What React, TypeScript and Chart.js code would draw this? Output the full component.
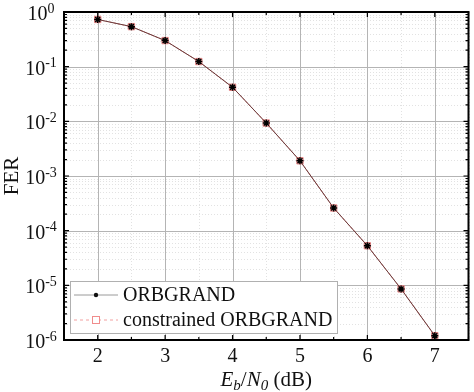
import React, { useEffect, useRef } from "react";
import { Chart, registerables } from "chart.js";

Chart.register(...registerables);

const ebn0 = [2, 2.5, 3, 3.5, 4, 4.5, 5, 5.5, 6, 6.5, 7];
const ferOrbgrand = [0.73, 0.54, 0.30, 0.124, 0.042, 0.0093, 0.0019, 2.6e-4, 5.3e-5, 8.6e-6, 1.2e-6];
const ferConstrained = [0.73, 0.54, 0.30, 0.124, 0.042, 0.0093, 0.0019, 2.6e-4, 5.3e-5, 8.6e-6, 1.2e-6];
const xTicks = [2, 3, 4, 5, 6, 7];
const yExponents = [0, -1, -2, -3, -4, -5, -6];
const seriesNames = ["ORBGRAND", "constrained ORBGRAND"];
const yTitle = "FER";

const SERIF = "'Liberation Serif', 'DejaVu Serif', serif";

const decor = {
  id: "decor",
  beforeDatasetsDraw(chart: any) {
    const ctx = chart.ctx;
    const { left, right, top, bottom } = chart.chartArea;
    const xs = chart.scales.x;
    const ys = chart.scales.y;
    ctx.save();
    // minor grid
    ctx.strokeStyle = "#e2e2e2";
    ctx.lineWidth = 1;
    ctx.setLineDash([1, 2]);
    for (let e = -6; e < 0; e++) {
      for (let m = 2; m <= 9; m++) {
        const y = Math.round(ys.getPixelForValue(m * Math.pow(10, e))) + 0.5;
        ctx.beginPath();
        ctx.moveTo(left, y);
        ctx.lineTo(right, y);
        ctx.stroke();
      }
    }
    for (let v = 1.5; v <= 7.5; v += 1) {
      const x = Math.round(xs.getPixelForValue(v)) + 0.5;
      ctx.beginPath();
      ctx.moveTo(x, top);
      ctx.lineTo(x, bottom);
      ctx.stroke();
    }
    // major grid
    ctx.setLineDash([]);
    ctx.strokeStyle = "#b4b4b4";
    for (const e of yExponents) {
      const y = Math.round(ys.getPixelForValue(Math.pow(10, e))) + 0.5;
      ctx.beginPath();
      ctx.moveTo(left, y);
      ctx.lineTo(right, y);
      ctx.stroke();
    }
    for (const v of xTicks) {
      const x = Math.round(xs.getPixelForValue(v)) + 0.5;
      ctx.beginPath();
      ctx.moveTo(x, top);
      ctx.lineTo(x, bottom);
      ctx.stroke();
    }
    ctx.restore();
  },
  afterDraw(chart: any) {
    const ctx = chart.ctx;
    const { left, right, top, bottom } = chart.chartArea;
    const xs = chart.scales.x;
    const ys = chart.scales.y;
    ctx.save();
    // ticks (inward)
    ctx.strokeStyle = "#000";
    ctx.lineWidth = 1.2;
    for (let e = -6; e <= 0; e++) {
      const y0 = ys.getPixelForValue(Math.pow(10, e));
      ctx.beginPath();
      ctx.moveTo(left, y0);
      ctx.lineTo(left + 5, y0);
      ctx.moveTo(right, y0);
      ctx.lineTo(right - 5, y0);
      ctx.stroke();
      if (e < 0) {
        for (let m = 2; m <= 9; m++) {
          const y = ys.getPixelForValue(m * Math.pow(10, e));
          ctx.beginPath();
          ctx.moveTo(left, y);
          ctx.lineTo(left + 3, y);
          ctx.moveTo(right, y);
          ctx.lineTo(right - 3, y);
          ctx.stroke();
        }
      }
    }
    for (let v = 2; v <= 7.5; v += 0.5) {
      const x = xs.getPixelForValue(v);
      const len = Number.isInteger(v) ? 5 : 3;
      ctx.beginPath();
      ctx.moveTo(x, bottom);
      ctx.lineTo(x, bottom - len);
      ctx.moveTo(x, top);
      ctx.lineTo(x, top + len);
      ctx.stroke();
    }
    // border
    ctx.lineWidth = 2;
    ctx.strokeRect(left, top, right - left, bottom - top);

    // x tick labels
    ctx.fillStyle = "#111";
    ctx.font = `20px ${SERIF}`;
    ctx.textAlign = "center";
    ctx.textBaseline = "alphabetic";
    for (const v of xTicks) {
      ctx.fillText(String(v), xs.getPixelForValue(v), bottom + 22);
    }
    // y tick labels: 10^e
    for (const e of yExponents) {
      const y = ys.getPixelForValue(Math.pow(10, e));
      const base = "10";
      const exp = e === 0 ? "0" : "-" + String(-e);
      ctx.font = `20px ${SERIF}`;
      const wb = ctx.measureText(base).width;
      ctx.font = `14px ${SERIF}`;
      const we = ctx.measureText(exp).width;
      const cx = 41;
      const x0 = cx - (wb + we) / 2;
      ctx.textAlign = "left";
      ctx.font = `20px ${SERIF}`;
      ctx.fillText(base, x0, y + 8);
      ctx.font = `14px ${SERIF}`;
      ctx.fillText(exp, x0 + wb, y + 0.5);
    }
    // y title
    ctx.save();
    ctx.translate(18, (top + bottom) / 2);
    ctx.rotate(-Math.PI / 2);
    ctx.textAlign = "center";
    ctx.font = `21px ${SERIF}`;
    ctx.fillText(yTitle, 0, 0);
    ctx.restore();
    // x title: E_b/N_0 (dB)
    {
      const parts = [
        { t: "E", f: `italic 21px ${SERIF}`, dy: 0 },
        { t: "b", f: `italic 15px ${SERIF}`, dy: 4 },
        { t: "/", f: `21px ${SERIF}`, dy: 0 },
        { t: "N", f: `italic 21px ${SERIF}`, dy: 0 },
        { t: "0", f: `italic 15px ${SERIF}`, dy: 4 },
        { t: " (dB)", f: `21px ${SERIF}`, dy: 0 },
      ];
      let total = 0;
      for (const p of parts) {
        ctx.font = p.f;
        total += ctx.measureText(p.t).width;
      }
      let x = (left + right) / 2 - total / 2;
      ctx.textAlign = "left";
      for (const p of parts) {
        ctx.font = p.f;
        ctx.fillText(p.t, x, 386 + p.dy);
        x += ctx.measureText(p.t).width;
      }
    }
    // legend
    {
      const lx = 70, ly = 281, lw = 267, lh = 52;
      ctx.fillStyle = "#fff";
      ctx.fillRect(lx, ly, lw, lh);
      ctx.strokeStyle = "#b0b0b0";
      ctx.lineWidth = 1;
      ctx.strokeRect(lx + 0.5, ly + 0.5, lw, lh);
      const rows = [ly + 14, ly + 39];
      // row 1
      ctx.strokeStyle = "#9a9a9a";
      ctx.lineWidth = 1;
      ctx.beginPath();
      ctx.moveTo(lx + 4, rows[0]);
      ctx.lineTo(lx + 48, rows[0]);
      ctx.stroke();
      ctx.fillStyle = "#111";
      ctx.beginPath();
      ctx.arc(lx + 26, rows[0], 2.2, 0, Math.PI * 2);
      ctx.fill();
      // row 2
      ctx.strokeStyle = "#f2a0a0";
      ctx.setLineDash([3, 3]);
      ctx.beginPath();
      ctx.moveTo(lx + 4, rows[1]);
      ctx.lineTo(lx + 48, rows[1]);
      ctx.stroke();
      ctx.setLineDash([]);
      ctx.fillStyle = "#fff";
      ctx.fillRect(lx + 22, rows[1] - 4, 8, 8);
      ctx.strokeStyle = "#f08c8c";
      ctx.strokeRect(lx + 22.5, rows[1] - 3.5, 7, 7);
      ctx.fillStyle = "#111";
      ctx.font = `20px ${SERIF}`;
      ctx.textBaseline = "middle";
      ctx.fillText(seriesNames[0], lx + 53, rows[0] + 1);
      ctx.fillText(seriesNames[1], lx + 53, rows[1] + 1);
    }
    ctx.restore();
  },
};

export default function App() {
  const ref = useRef<HTMLCanvasElement>(null);
  useEffect(() => {
    document.body.style.margin = "0";
    const canvas = ref.current!;
    const chart = new Chart(canvas, {
      type: "line",
      data: {
        datasets: [
          {
            label: seriesNames[0],
            data: ebn0.map((x, i) => ({ x, y: ferOrbgrand[i] })),
            borderColor: "#6a3a3a",
            borderWidth: 1,
            pointStyle: "star",
            pointRadius: 3.5,
            pointBorderColor: "#000",
            pointBorderWidth: 1.5,
            pointBackgroundColor: "#000",
            order: 0,
          },
          {
            label: seriesNames[1],
            data: ebn0.map((x, i) => ({ x, y: ferConstrained[i] })),
            borderColor: "rgba(190,80,80,0.75)",
            borderWidth: 1,
            borderDash: [3, 1],
            pointStyle: "rect",
            pointRadius: 4.5,
            pointBorderColor: "rgba(225,120,120,0.9)",
            pointBorderWidth: 1,
            pointBackgroundColor: "rgba(235,170,170,0.8)",
            order: 1,
          },
        ],
      },
      options: {
        animation: false,
        responsive: false,
        layout: { padding: { left: 64, right: 4, top: 12, bottom: 52 } },
        plugins: { legend: { display: false }, tooltip: { enabled: false } },
        scales: {
          x: { type: "linear", min: 1.5, max: 7.5, display: false },
          y: { type: "logarithmic", min: 1e-6, max: 1, display: false },
        },
      },
      plugins: [decor],
    });
    return () => chart.destroy();
  }, []);
  return <canvas ref={ref} width={474} height={392} style={{ display: "block" }} />;
}
